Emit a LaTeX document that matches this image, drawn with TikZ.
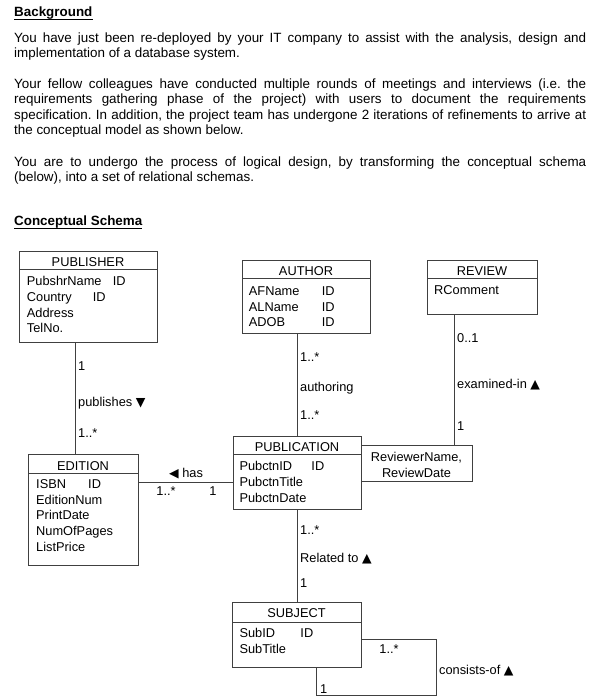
\documentclass[tikz,border=0pt]{standalone}
\usepackage{fontspec}
\setmainfont{Liberation Sans}
\newfontfamily\symfont{DejaVu Sans}
\newcommand{\dgmfont}{\fontsize{12.8}{15.7}\selectfont}
\newcommand{\bodyfont}{\fontsize{13.4}{15.5}\selectfont}
\newcommand{\tri}[1]{{\symfont\fontsize{12.5}{12.5}\selectfont #1}}
\setlength{\parindent}{0pt}
\frenchspacing
\tikzset{
  para/.style={anchor=north west, inner sep=0pt, text width=572pt, align=justify, font=\bodyfont},
  head/.style={anchor=base west, inner sep=0pt, font=\bodyfont\bfseries},
  box/.style={draw=black!75, line width=0.8pt, anchor=north west, inner sep=0pt},
  conn/.style={draw=black!75, line width=0.8pt},
  ttl/.style={font=\dgmfont, text height=9.2pt, text depth=0pt, inner sep=0pt},
  attrs/.style={font=\dgmfont, align=left, anchor=north west, inner sep=0pt},
  lbl/.style={font=\dgmfont, text height=9.2pt, text depth=0pt, inner sep=0pt, anchor=west},
}
\begin{document}
\begin{tikzpicture}[x=1pt, y=-1pt]
\useasboundingbox (0,0) rectangle (603,700);
% header text
\node[head] (bghead) at (14,17) {Background};
\draw[line width=0.7pt] ([yshift=-2.3pt]bghead.base west) -- ([yshift=-2.3pt]bghead.base east);
\node[para] (para1) at (14,32.2) {You have just been re-deployed by your IT company to assist with the analysis, design and\linebreak implementation of a database system.};
\node[para] (para2) at (14,78.2) {Your fellow colleagues have conducted multiple rounds of meetings and interviews (i.e. the\linebreak requirements gathering phase of the project) with users to document the requirements\linebreak specification. In addition, the project team has undergone 2 iterations of refinements to arrive at\linebreak the conceptual model as shown below.};
\node[para] (para3) at (14,156.2) {You are to undergo the process of logical design, by transforming the conceptual schema\linebreak (below), into a set of relational schemas.};
\node[head] (cshead) at (14,226) {Conceptual Schema};
\draw[line width=0.7pt] ([yshift=-2.3pt]cshead.base west) -- ([yshift=-2.3pt]cshead.base east);

% classes
\node[box, minimum width=138pt, minimum height=91pt] (publisher) at (19,251) {};
\node[box, minimum width=128pt, minimum height=73pt] (author) at (242,260) {};
\node[box, minimum width=110pt, minimum height=54pt] (review) at (427,260) {};
\node[box, minimum width=128pt, minimum height=73pt] (publication) at (233,436) {};
\node[box, minimum width=111pt, minimum height=36pt] (revinfo) at (361,445) {};
\node[box, minimum width=110pt, minimum height=111pt] (edition) at (28,454) {};
\node[box, minimum width=129pt, minimum height=65pt] (subject) at (232,602) {};
\foreach \cls/\hy in {publisher/269, author/278, review/278, publication/454, edition/473, subject/622}
  \draw[conn] (\cls.west |- 0,\hy) -- (\cls.east |- 0,\hy);

\node[ttl] (publisher-t) at (88,262) {PUBLISHER};
\node[attrs] (publisher-a) at (26.7,276.3) {\makebox[86pt][l]{PubshrName}ID\\
  \makebox[66pt][l]{Country}ID\\ Address\\ TelNo.};
\node[ttl] (author-t) at (306,271) {AUTHOR};
\node[attrs] (author-a) at (248.7,286.3) {\makebox[73pt][l]{AFName}ID\\
  \makebox[73pt][l]{ALName}ID\\ \makebox[73pt][l]{ADOB}ID};
\node[ttl] (review-t) at (482,271) {REVIEW};
\node[attrs] (review-a) at (434,285.3) {RComment};
\node[ttl] (publication-t) at (297,447) {PUBLICATION};
\node[attrs] (publication-a) at (239.3,461.3) {\makebox[72pt][l]{PubctnID}ID\\
  PubctnTitle\\ PubctnDate};
\node[font=\dgmfont, align=center, inner sep=0pt] (revinfo-a) at (416.5,465) {ReviewerName,\\ ReviewDate};
\node[ttl] (edition-t) at (83,466) {EDITION};
\node[attrs] (edition-a) at (36,479.3) {\makebox[52pt][l]{ISBN}ID\\
  EditionNum\\ PrintDate\\ NumOfPages\\ ListPrice};
\node[ttl] (subject-t) at (296.5,613) {SUBJECT};
\node[attrs] (subject-a) at (239.3,628.3) {\makebox[61pt][l]{SubID}ID\\ SubTitle};

% associations
\draw[conn] (75,0 |- publisher.south) -- (75,0 |- edition.north);
\draw[conn] (297,0 |- author.south) -- (297,0 |- publication.north);
\draw[conn] (454,0 |- review.south) -- (454,0 |- revinfo.north);
\draw[conn] (edition.east |- 0,482) -- (publication.west |- 0,482);
\draw[conn] (297,0 |- publication.south) -- (297,0 |- subject.north);
\draw[conn] (subject.east |- 0,639) -- (436,639) -- (436,695) -- (316,695) -- (316,0 |- subject.south);

\node[lbl] (publishes-m1) at (78,366) {1};
\node[lbl] (publishes-n) at (78,402) {publishes \tri{▼}};
\node[lbl] (publishes-m2) at (78,433) {1..*};
\node[lbl] (authoring-m1) at (300,357) {1..*};
\node[lbl] (authoring-n) at (300,387) {authoring};
\node[lbl] (authoring-m2) at (300,415) {1..*};
\node[lbl] (examined-m1) at (457,338) {0..1};
\node[lbl] (examined-n) at (457,384) {examined-in \tri{▲}};
\node[lbl] (examined-m2) at (457,426) {1};
\node[lbl, anchor=center] (has-n) at (186,473) {\tri{◀} has};
\node[lbl, anchor=center] (has-m1) at (166,491) {1..*};
\node[lbl, anchor=center] (has-m2) at (213,491) {1};
\node[lbl] (related-m1) at (300,530) {1..*};
\node[lbl] (related-n) at (300,558) {Related to \tri{▲}};
\node[lbl] (related-m2) at (300,583) {1};
\node[lbl, anchor=center] (consists-m1) at (389,649) {1..*};
\node[lbl] (consists-n) at (439,670) {consists-of \tri{▲}};
\node[lbl] (consists-m2) at (320,689) {1};
\end{tikzpicture}
\end{document}
